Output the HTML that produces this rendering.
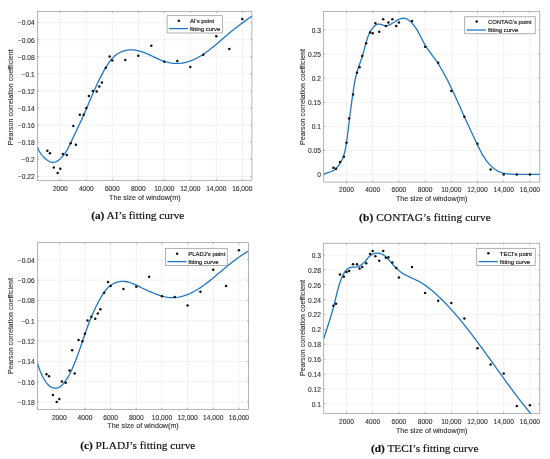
<!DOCTYPE html>
<html lang="en"><head><meta charset="utf-8"><title>Fitting curves</title>
<style>html,body{margin:0;padding:0;background:#fff}body{width:550px;height:459px;overflow:hidden}svg{display:block}</style>
</head><body>
<svg width="550" height="459" viewBox="0 0 550 459">
<rect width="550" height="459" fill="#fff"/>
<g id="plot-a">
<clipPath id="clip-a"><rect x="37.5" y="11.5" width="214.40" height="168.80"/></clipPath>
<path d="M60.30 11.5V180.3M86.30 11.5V180.3M112.30 11.5V180.3M138.30 11.5V180.3M164.30 11.5V180.3M190.30 11.5V180.3M216.30 11.5V180.3M242.30 11.5V180.3M37.5 22.60H251.9M37.5 39.70H251.9M37.5 56.80H251.9M37.5 73.90H251.9M37.5 91.00H251.9M37.5 108.10H251.9M37.5 125.20H251.9M37.5 142.30H251.9M37.5 159.40H251.9M37.5 176.50H251.9" stroke="#e9e9e9" stroke-width="0.6" fill="none"/>
<path d="M60.30 180.3v-1.5M60.30 11.5v1.5M86.30 180.3v-1.5M86.30 11.5v1.5M112.30 180.3v-1.5M112.30 11.5v1.5M138.30 180.3v-1.5M138.30 11.5v1.5M164.30 180.3v-1.5M164.30 11.5v1.5M190.30 180.3v-1.5M190.30 11.5v1.5M216.30 180.3v-1.5M216.30 11.5v1.5M242.30 180.3v-1.5M242.30 11.5v1.5M37.5 22.60h1.5M251.9 22.60h-1.5M37.5 39.70h1.5M251.9 39.70h-1.5M37.5 56.80h1.5M251.9 56.80h-1.5M37.5 73.90h1.5M251.9 73.90h-1.5M37.5 91.00h1.5M251.9 91.00h-1.5M37.5 108.10h1.5M251.9 108.10h-1.5M37.5 125.20h1.5M251.9 125.20h-1.5M37.5 142.30h1.5M251.9 142.30h-1.5M37.5 159.40h1.5M251.9 159.40h-1.5M37.5 176.50h1.5M251.9 176.50h-1.5" stroke="#8e8e8e" stroke-width="0.6" fill="none"/>
<rect x="37.5" y="11.5" width="214.40" height="168.80" fill="none" stroke="#8e8e8e" stroke-width="0.65"/>
<path d="M37.74 147.12 L38.07 148.46 L38.56 149.78 L39.17 151.08 L39.92 152.37 L40.78 153.64 L41.74 154.89 L42.79 156.12 L43.92 157.33 L45.12 158.49 L46.37 159.56 L47.67 160.51 L49.01 161.29 L50.36 161.87 L51.73 162.23 L53.10 162.34 L54.45 162.21 L55.78 161.83 L57.08 161.20 L58.33 160.36 L59.52 159.41 L60.65 158.39 L61.71 157.31 L62.72 156.19 L63.67 155.02 L64.58 153.81 L65.44 152.56 L66.26 151.28 L67.04 149.96 L67.79 148.63 L68.51 147.27 L69.21 145.89 L69.89 144.51 L70.55 143.11 L71.21 141.71 L71.85 140.31 L72.50 138.91 L73.14 137.53 L73.79 136.15 L74.43 134.77 L75.08 133.41 L75.73 132.05 L76.37 130.69 L77.02 129.33 L77.66 127.98 L78.31 126.63 L78.95 125.28 L79.59 123.93 L80.23 122.58 L80.86 121.22 L81.49 119.87 L82.11 118.50 L82.73 117.14 L83.35 115.76 L83.96 114.39 L84.57 113.00 L85.17 111.62 L85.78 110.23 L86.37 108.83 L86.97 107.43 L87.57 106.03 L88.16 104.63 L88.76 103.23 L89.36 101.82 L89.95 100.42 L90.55 99.01 L91.15 97.60 L91.75 96.20 L92.35 94.79 L92.96 93.39 L93.57 91.99 L94.19 90.59 L94.81 89.19 L95.43 87.80 L96.06 86.41 L96.70 85.03 L97.35 83.64 L98.00 82.27 L98.66 80.90 L99.32 79.54 L100.00 78.18 L100.69 76.83 L101.38 75.48 L102.09 74.15 L102.80 72.82 L103.53 71.50 L104.27 70.19 L105.02 68.89 L105.79 67.60 L106.57 66.32 L107.36 65.05 L108.17 63.80 L109.00 62.56 L109.86 61.35 L110.76 60.18 L111.70 59.03 L112.69 57.93 L113.73 56.88 L114.82 55.88 L115.98 54.94 L117.22 54.06 L118.51 53.25 L119.87 52.51 L121.27 51.85 L122.70 51.28 L124.17 50.80 L125.65 50.42 L127.15 50.13 L128.65 49.95 L130.15 49.86 L131.66 49.86 L133.16 49.94 L134.67 50.10 L136.16 50.33 L137.66 50.63 L139.14 50.99 L140.61 51.40 L142.08 51.86 L143.53 52.37 L144.96 52.91 L146.37 53.49 L147.77 54.09 L149.16 54.71 L150.53 55.35 L151.90 56.00 L153.27 56.66 L154.63 57.31 L156.00 57.96 L157.38 58.59 L158.77 59.20 L160.17 59.80 L161.59 60.36 L163.03 60.89 L164.48 61.38 L165.94 61.82 L167.42 62.23 L168.91 62.58 L170.41 62.88 L171.91 63.12 L173.41 63.30 L174.92 63.42 L176.43 63.46 L177.94 63.44 L179.44 63.36 L180.94 63.21 L182.43 63.00 L183.91 62.74 L185.38 62.42 L186.83 62.06 L188.27 61.64 L189.70 61.18 L191.11 60.67 L192.49 60.12 L193.87 59.53 L195.22 58.90 L196.56 58.23 L197.88 57.54 L199.19 56.80 L200.49 56.04 L201.77 55.25 L203.04 54.43 L204.30 53.58 L205.55 52.71 L206.78 51.82 L208.01 50.91 L209.23 49.99 L210.43 49.04 L211.63 48.09 L212.83 47.12 L214.01 46.14 L215.19 45.15 L216.36 44.16 L217.53 43.16 L218.70 42.16 L219.86 41.15 L221.01 40.15 L222.17 39.15 L223.32 38.16 L224.47 37.17 L225.63 36.19 L226.78 35.22 L227.93 34.25 L229.08 33.30 L230.24 32.34 L231.40 31.40 L232.56 30.46 L233.73 29.53 L234.90 28.60 L236.08 27.68 L237.26 26.76 L238.45 25.85 L239.64 24.94 L240.85 24.04 L242.06 23.14 L243.28 22.25 L244.51 21.36 L245.75 20.48 L247.00 19.60 L248.27 18.72 L249.54 17.84 L250.83 16.97 L252.14 16.10" stroke="#1f77c4" stroke-width="1.3" fill="none" stroke-linejoin="round" clip-path="url(#clip-a)"/>
<circle cx="47.30" cy="150.70" r="1.25" fill="#111"/>
<circle cx="49.90" cy="153.20" r="1.25" fill="#111"/>
<circle cx="53.80" cy="167.60" r="1.25" fill="#111"/>
<circle cx="57.70" cy="172.90" r="1.25" fill="#111"/>
<circle cx="60.30" cy="168.80" r="1.25" fill="#111"/>
<circle cx="62.90" cy="154.10" r="1.25" fill="#111"/>
<circle cx="66.80" cy="155.10" r="1.25" fill="#111"/>
<circle cx="70.70" cy="143.20" r="1.25" fill="#111"/>
<circle cx="73.30" cy="126.00" r="1.25" fill="#111"/>
<circle cx="75.90" cy="144.80" r="1.25" fill="#111"/>
<circle cx="79.80" cy="114.80" r="1.25" fill="#111"/>
<circle cx="83.70" cy="114.80" r="1.25" fill="#111"/>
<circle cx="86.30" cy="107.90" r="1.25" fill="#111"/>
<circle cx="88.90" cy="95.90" r="1.25" fill="#111"/>
<circle cx="92.80" cy="90.90" r="1.25" fill="#111"/>
<circle cx="96.70" cy="91.60" r="1.25" fill="#111"/>
<circle cx="99.30" cy="86.50" r="1.25" fill="#111"/>
<circle cx="101.90" cy="82.40" r="1.25" fill="#111"/>
<circle cx="105.80" cy="67.80" r="1.25" fill="#111"/>
<circle cx="109.70" cy="56.60" r="1.25" fill="#111"/>
<circle cx="112.30" cy="60.40" r="1.25" fill="#111"/>
<circle cx="125.30" cy="60.10" r="1.25" fill="#111"/>
<circle cx="138.30" cy="55.80" r="1.25" fill="#111"/>
<circle cx="151.30" cy="45.80" r="1.25" fill="#111"/>
<circle cx="164.30" cy="61.80" r="1.25" fill="#111"/>
<circle cx="177.30" cy="61.10" r="1.25" fill="#111"/>
<circle cx="190.30" cy="67.00" r="1.25" fill="#111"/>
<circle cx="203.30" cy="54.70" r="1.25" fill="#111"/>
<circle cx="216.30" cy="36.30" r="1.25" fill="#111"/>
<circle cx="229.30" cy="49.00" r="1.25" fill="#111"/>
<circle cx="242.30" cy="19.10" r="1.25" fill="#111"/>
<g font-family="Liberation Sans, Arial, sans-serif" font-size="6.65" fill="#333" stroke="#333" stroke-width="0.12">
<text x="60.30" y="190.60" text-anchor="middle">2000</text>
<text x="86.30" y="190.60" text-anchor="middle">4000</text>
<text x="112.30" y="190.60" text-anchor="middle">6000</text>
<text x="138.30" y="190.60" text-anchor="middle">8000</text>
<text x="164.30" y="190.60" text-anchor="middle">10,000</text>
<text x="190.30" y="190.60" text-anchor="middle">12,000</text>
<text x="216.30" y="190.60" text-anchor="middle">14,000</text>
<text x="242.30" y="190.60" text-anchor="middle">16,000</text>
<text x="34.70" y="25.40" text-anchor="end">−0.04</text>
<text x="34.70" y="42.50" text-anchor="end">−0.06</text>
<text x="34.70" y="59.60" text-anchor="end">−0.08</text>
<text x="34.70" y="76.70" text-anchor="end">−0.1</text>
<text x="34.70" y="93.80" text-anchor="end">−0.12</text>
<text x="34.70" y="110.90" text-anchor="end">−0.14</text>
<text x="34.70" y="128.00" text-anchor="end">−0.16</text>
<text x="34.70" y="145.10" text-anchor="end">−0.18</text>
<text x="34.70" y="162.20" text-anchor="end">−0.2</text>
<text x="34.70" y="179.30" text-anchor="end">−0.22</text>
</g>
<text x="144.8" y="200.4" text-anchor="middle" font-family="Liberation Sans, Arial, sans-serif" font-size="7.15" fill="#333" stroke="#333" stroke-width="0.12">The size of window(m)</text>
<text transform="translate(12.5 97.2) rotate(-90)" text-anchor="middle" font-family="Liberation Sans, Arial, sans-serif" font-size="7.15" fill="#333" stroke="#333" stroke-width="0.12">Pearson correlation coefficient</text>
<rect x="167.1" y="15.7" width="55.20" height="17.30" fill="#fff" stroke="#8e8e8e" stroke-width="0.7"/>
<circle cx="178.8" cy="20.7" r="1.25" fill="#111"/>
<path d="M169.1 28.6H187.9" stroke="#1f77c4" stroke-width="1.3"/>
<text x="189.9" y="23.20" font-family="Liberation Sans, Arial, sans-serif" font-size="5.95" fill="#222" stroke="#222" stroke-width="0.18">AI's point</text>
<text x="189.9" y="30.80" font-family="Liberation Sans, Arial, sans-serif" font-size="5.95" fill="#222" stroke="#222" stroke-width="0.18">fitting curve</text>
<text x="137.8" y="219.3" text-anchor="middle" font-family="Liberation Serif, Times New Roman, serif" font-size="11.3" fill="#111" stroke="#111" stroke-width="0.18" letter-spacing="0" xml:space="preserve"><tspan font-weight="bold">(a)</tspan> AI’s fitting curve</text>
</g>
<g id="plot-b">
<clipPath id="clip-b"><rect x="323.7" y="11.5" width="216.10" height="170.60"/></clipPath>
<path d="M346.50 11.5V182.1M372.70 11.5V182.1M398.90 11.5V182.1M425.10 11.5V182.1M451.30 11.5V182.1M477.50 11.5V182.1M503.70 11.5V182.1M529.90 11.5V182.1M323.7 30.00H539.8M323.7 54.10H539.8M323.7 78.20H539.8M323.7 102.30H539.8M323.7 126.40H539.8M323.7 150.50H539.8M323.7 174.60H539.8" stroke="#e9e9e9" stroke-width="0.6" fill="none"/>
<path d="M346.50 182.1v-1.5M346.50 11.5v1.5M372.70 182.1v-1.5M372.70 11.5v1.5M398.90 182.1v-1.5M398.90 11.5v1.5M425.10 182.1v-1.5M425.10 11.5v1.5M451.30 182.1v-1.5M451.30 11.5v1.5M477.50 182.1v-1.5M477.50 11.5v1.5M503.70 182.1v-1.5M503.70 11.5v1.5M529.90 182.1v-1.5M529.90 11.5v1.5M323.7 30.00h1.5M539.8 30.00h-1.5M323.7 54.10h1.5M539.8 54.10h-1.5M323.7 78.20h1.5M539.8 78.20h-1.5M323.7 102.30h1.5M539.8 102.30h-1.5M323.7 126.40h1.5M539.8 126.40h-1.5M323.7 150.50h1.5M539.8 150.50h-1.5M323.7 174.60h1.5M539.8 174.60h-1.5" stroke="#8e8e8e" stroke-width="0.6" fill="none"/>
<rect x="323.7" y="11.5" width="216.10" height="170.60" fill="none" stroke="#8e8e8e" stroke-width="0.65"/>
<path d="M323.50 174.10 L325.09 173.55 L326.63 173.09 L328.12 172.66 L329.55 172.23 L330.94 171.75 L332.26 171.19 L333.52 170.49 L334.73 169.65 L335.87 168.67 L336.94 167.60 L337.94 166.44 L338.87 165.23 L339.73 163.98 L340.52 162.70 L341.25 161.40 L341.91 160.06 L342.52 158.70 L343.07 157.32 L343.58 155.91 L344.03 154.48 L344.45 153.04 L344.82 151.58 L345.17 150.11 L345.48 148.62 L345.76 147.12 L346.02 145.62 L346.26 144.10 L346.48 142.59 L346.70 141.07 L346.90 139.55 L347.10 138.03 L347.30 136.51 L347.49 135.00 L347.69 133.48 L347.88 131.97 L348.07 130.46 L348.26 128.96 L348.45 127.45 L348.63 125.95 L348.82 124.45 L349.01 122.95 L349.19 121.45 L349.38 119.95 L349.57 118.46 L349.75 116.97 L349.94 115.48 L350.13 113.99 L350.32 112.50 L350.51 111.01 L350.70 109.52 L350.89 108.04 L351.08 106.56 L351.28 105.07 L351.47 103.59 L351.67 102.11 L351.88 100.63 L352.08 99.15 L352.29 97.68 L352.50 96.20 L352.71 94.72 L352.93 93.25 L353.15 91.77 L353.37 90.30 L353.60 88.82 L353.83 87.35 L354.06 85.87 L354.31 84.40 L354.56 82.93 L354.82 81.46 L355.10 79.98 L355.40 78.51 L355.72 77.04 L356.05 75.57 L356.42 74.09 L356.80 72.62 L357.22 71.15 L357.67 69.67 L358.15 68.20 L358.66 66.73 L359.19 65.25 L359.73 63.78 L360.27 62.30 L360.81 60.83 L361.32 59.35 L361.81 57.87 L362.27 56.40 L362.72 54.92 L363.14 53.45 L363.55 51.98 L363.95 50.52 L364.35 49.06 L364.74 47.61 L365.12 46.17 L365.51 44.74 L365.91 43.31 L366.31 41.90 L366.73 40.50 L367.17 39.12 L367.62 37.74 L368.10 36.39 L368.61 35.05 L369.18 33.73 L369.81 32.42 L370.52 31.14 L371.31 29.88 L372.21 28.64 L373.22 27.42 L374.34 26.27 L375.57 25.26 L376.87 24.50 L378.24 24.08 L379.65 24.09 L381.08 24.46 L382.53 24.99 L383.96 25.44 L385.38 25.70 L386.79 25.70 L388.20 25.39 L389.59 24.84 L390.99 24.13 L392.38 23.31 L393.78 22.43 L395.17 21.54 L396.57 20.67 L397.98 19.87 L399.40 19.20 L400.83 18.68 L402.24 18.35 L403.64 18.24 L405.02 18.38 L406.36 18.79 L407.65 19.47 L408.89 20.33 L410.06 21.29 L411.17 22.31 L412.21 23.38 L413.20 24.50 L414.13 25.66 L415.02 26.87 L415.87 28.11 L416.68 29.39 L417.46 30.69 L418.21 32.01 L418.95 33.36 L419.66 34.71 L420.37 36.08 L421.07 37.45 L421.76 38.82 L422.46 40.18 L423.18 41.54 L423.90 42.89 L424.64 44.21 L425.41 45.52 L426.21 46.80 L427.03 48.05 L427.87 49.29 L428.73 50.52 L429.60 51.73 L430.48 52.93 L431.37 54.13 L432.26 55.33 L433.15 56.53 L434.04 57.73 L434.91 58.95 L435.78 60.17 L436.63 61.42 L437.47 62.67 L438.29 63.94 L439.10 65.22 L439.90 66.52 L440.68 67.82 L441.46 69.13 L442.22 70.45 L442.97 71.77 L443.71 73.10 L444.44 74.44 L445.16 75.77 L445.88 77.12 L446.58 78.46 L447.27 79.81 L447.96 81.15 L448.64 82.50 L449.32 83.85 L449.98 85.21 L450.64 86.56 L451.30 87.92 L451.94 89.28 L452.59 90.64 L453.23 92.00 L453.86 93.36 L454.49 94.72 L455.12 96.09 L455.74 97.45 L456.36 98.82 L456.98 100.19 L457.59 101.56 L458.21 102.93 L458.82 104.30 L459.43 105.67 L460.05 107.05 L460.66 108.42 L461.27 109.80 L461.88 111.17 L462.50 112.55 L463.11 113.92 L463.73 115.30 L464.35 116.67 L464.97 118.05 L465.59 119.43 L466.22 120.81 L466.84 122.18 L467.48 123.56 L468.11 124.94 L468.74 126.31 L469.38 127.69 L470.02 129.07 L470.66 130.44 L471.30 131.82 L471.94 133.20 L472.58 134.57 L473.23 135.94 L473.87 137.32 L474.52 138.69 L475.17 140.06 L475.82 141.43 L476.47 142.80 L477.12 144.17 L477.78 145.54 L478.44 146.90 L479.11 148.26 L479.78 149.61 L480.47 150.95 L481.18 152.28 L481.91 153.59 L482.65 154.89 L483.42 156.18 L484.21 157.44 L485.04 158.68 L485.89 159.91 L486.78 161.10 L487.70 162.28 L488.67 163.42 L489.67 164.53 L490.72 165.62 L491.81 166.67 L492.96 167.68 L494.15 168.66 L495.39 169.58 L496.68 170.43 L498.00 171.21 L499.36 171.88 L500.76 172.45 L502.18 172.89 L503.62 173.22 L505.08 173.47 L506.57 173.68 L508.06 173.85 L509.56 173.99 L511.08 174.11 L512.59 174.21 L514.11 174.29 L515.64 174.35 L517.16 174.39 L518.68 174.42 L520.19 174.44 L521.70 174.45 L523.21 174.45 L524.72 174.45 L526.22 174.45 L527.73 174.45 L529.23 174.45 L530.74 174.45 L532.24 174.45 L533.75 174.45 L535.26 174.45 L536.77 174.45 L538.28 174.45 L539.80 174.45" stroke="#1f77c4" stroke-width="1.3" fill="none" stroke-linejoin="round" clip-path="url(#clip-b)"/>
<circle cx="333.40" cy="167.70" r="1.25" fill="#111"/>
<circle cx="336.02" cy="168.70" r="1.25" fill="#111"/>
<circle cx="339.95" cy="162.10" r="1.25" fill="#111"/>
<circle cx="343.88" cy="156.70" r="1.25" fill="#111"/>
<circle cx="346.50" cy="142.70" r="1.25" fill="#111"/>
<circle cx="349.12" cy="118.60" r="1.25" fill="#111"/>
<circle cx="353.05" cy="94.40" r="1.25" fill="#111"/>
<circle cx="356.98" cy="72.80" r="1.25" fill="#111"/>
<circle cx="359.60" cy="67.20" r="1.25" fill="#111"/>
<circle cx="362.22" cy="56.00" r="1.25" fill="#111"/>
<circle cx="366.15" cy="43.30" r="1.25" fill="#111"/>
<circle cx="370.08" cy="32.60" r="1.25" fill="#111"/>
<circle cx="372.70" cy="33.30" r="1.25" fill="#111"/>
<circle cx="375.32" cy="23.20" r="1.25" fill="#111"/>
<circle cx="379.25" cy="31.80" r="1.25" fill="#111"/>
<circle cx="383.18" cy="19.30" r="1.25" fill="#111"/>
<circle cx="385.80" cy="26.00" r="1.25" fill="#111"/>
<circle cx="388.42" cy="22.60" r="1.25" fill="#111"/>
<circle cx="392.35" cy="19.30" r="1.25" fill="#111"/>
<circle cx="396.28" cy="26.00" r="1.25" fill="#111"/>
<circle cx="398.90" cy="22.40" r="1.25" fill="#111"/>
<circle cx="412.00" cy="20.90" r="1.25" fill="#111"/>
<circle cx="425.10" cy="46.80" r="1.25" fill="#111"/>
<circle cx="438.20" cy="62.80" r="1.25" fill="#111"/>
<circle cx="451.30" cy="91.10" r="1.25" fill="#111"/>
<circle cx="464.40" cy="116.80" r="1.25" fill="#111"/>
<circle cx="477.50" cy="143.80" r="1.25" fill="#111"/>
<circle cx="490.60" cy="169.50" r="1.25" fill="#111"/>
<circle cx="503.70" cy="174.60" r="1.25" fill="#111"/>
<circle cx="516.80" cy="174.60" r="1.25" fill="#111"/>
<circle cx="529.90" cy="174.60" r="1.25" fill="#111"/>
<g font-family="Liberation Sans, Arial, sans-serif" font-size="6.65" fill="#333" stroke="#333" stroke-width="0.12">
<text x="346.50" y="192.40" text-anchor="middle">2000</text>
<text x="372.70" y="192.40" text-anchor="middle">4000</text>
<text x="398.90" y="192.40" text-anchor="middle">6000</text>
<text x="425.10" y="192.40" text-anchor="middle">8000</text>
<text x="451.30" y="192.40" text-anchor="middle">10,000</text>
<text x="477.50" y="192.40" text-anchor="middle">12,000</text>
<text x="503.70" y="192.40" text-anchor="middle">14,000</text>
<text x="529.90" y="192.40" text-anchor="middle">16,000</text>
<text x="320.90" y="32.80" text-anchor="end">0.3</text>
<text x="320.90" y="56.90" text-anchor="end">0.25</text>
<text x="320.90" y="81.00" text-anchor="end">0.2</text>
<text x="320.90" y="105.10" text-anchor="end">0.15</text>
<text x="320.90" y="129.20" text-anchor="end">0.1</text>
<text x="320.90" y="153.30" text-anchor="end">0.05</text>
<text x="320.90" y="177.40" text-anchor="end">0</text>
</g>
<text x="431.7" y="201.3" text-anchor="middle" font-family="Liberation Sans, Arial, sans-serif" font-size="7.15" fill="#333" stroke="#333" stroke-width="0.12">The size of window(m)</text>
<text transform="translate(304.6 97) rotate(-90)" text-anchor="middle" font-family="Liberation Sans, Arial, sans-serif" font-size="7.15" fill="#333" stroke="#333" stroke-width="0.12">Pearson correlation coefficient</text>
<rect x="464.7" y="16.8" width="70.50" height="17.00" fill="#fff" stroke="#8e8e8e" stroke-width="0.7"/>
<circle cx="476.7" cy="21.4" r="1.25" fill="#111"/>
<path d="M466.5 30H485.8" stroke="#1f77c4" stroke-width="1.3"/>
<text x="487.9" y="23.90" font-family="Liberation Sans, Arial, sans-serif" font-size="5.95" fill="#222" stroke="#222" stroke-width="0.18">CONTAG's point</text>
<text x="487.9" y="32.20" font-family="Liberation Sans, Arial, sans-serif" font-size="5.95" fill="#222" stroke="#222" stroke-width="0.18">fitting curve</text>
<text x="425.0" y="221.2" text-anchor="middle" font-family="Liberation Serif, Times New Roman, serif" font-size="11.3" fill="#111" stroke="#111" stroke-width="0.18" letter-spacing="0.12" xml:space="preserve"><tspan font-weight="bold">(b)</tspan> CONTAG’s fitting curve</text>
</g>
<g id="plot-c">
<clipPath id="clip-c"><rect x="37.4" y="242.7" width="211.20" height="166.60"/></clipPath>
<path d="M59.30 242.7V409.3M84.96 242.7V409.3M110.62 242.7V409.3M136.28 242.7V409.3M161.94 242.7V409.3M187.60 242.7V409.3M213.26 242.7V409.3M238.92 242.7V409.3M37.4 259.80H248.6M37.4 280.13H248.6M37.4 300.46H248.6M37.4 320.79H248.6M37.4 341.12H248.6M37.4 361.45H248.6M37.4 381.78H248.6M37.4 402.11H248.6" stroke="#e9e9e9" stroke-width="0.6" fill="none"/>
<path d="M59.30 409.3v-1.5M59.30 242.7v1.5M84.96 409.3v-1.5M84.96 242.7v1.5M110.62 409.3v-1.5M110.62 242.7v1.5M136.28 409.3v-1.5M136.28 242.7v1.5M161.94 409.3v-1.5M161.94 242.7v1.5M187.60 409.3v-1.5M187.60 242.7v1.5M213.26 409.3v-1.5M213.26 242.7v1.5M238.92 409.3v-1.5M238.92 242.7v1.5M37.4 259.80h1.5M248.6 259.80h-1.5M37.4 280.13h1.5M248.6 280.13h-1.5M37.4 300.46h1.5M248.6 300.46h-1.5M37.4 320.79h1.5M248.6 320.79h-1.5M37.4 341.12h1.5M248.6 341.12h-1.5M37.4 361.45h1.5M248.6 361.45h-1.5M37.4 381.78h1.5M248.6 381.78h-1.5M37.4 402.11h1.5M248.6 402.11h-1.5" stroke="#8e8e8e" stroke-width="0.6" fill="none"/>
<rect x="37.4" y="242.7" width="211.20" height="166.60" fill="none" stroke="#8e8e8e" stroke-width="0.65"/>
<path d="M37.51 363.38 L37.91 364.71 L38.34 366.05 L38.80 367.41 L39.29 368.78 L39.81 370.17 L40.36 371.56 L40.96 372.97 L41.59 374.39 L42.27 375.82 L43.00 377.26 L43.78 378.71 L44.62 380.13 L45.51 381.52 L46.47 382.84 L47.48 384.07 L48.57 385.18 L49.72 386.15 L50.94 386.95 L52.23 387.57 L53.55 387.99 L54.88 388.21 L56.20 388.21 L57.50 387.99 L58.74 387.53 L59.92 386.86 L61.05 386.02 L62.13 385.02 L63.16 383.92 L64.15 382.74 L65.09 381.50 L65.99 380.22 L66.85 378.91 L67.67 377.57 L68.47 376.20 L69.23 374.82 L69.96 373.42 L70.66 372.01 L71.34 370.60 L72.00 369.19 L72.64 367.79 L73.26 366.38 L73.86 364.97 L74.45 363.57 L75.02 362.17 L75.57 360.76 L76.12 359.36 L76.65 357.95 L77.17 356.55 L77.68 355.14 L78.18 353.74 L78.68 352.33 L79.17 350.92 L79.66 349.51 L80.14 348.09 L80.62 346.68 L81.11 345.26 L81.59 343.84 L82.07 342.42 L82.55 341.00 L83.04 339.58 L83.53 338.15 L84.02 336.73 L84.51 335.30 L85.00 333.88 L85.50 332.45 L86.01 331.03 L86.52 329.61 L87.03 328.18 L87.56 326.76 L88.08 325.34 L88.62 323.92 L89.16 322.51 L89.71 321.10 L90.27 319.69 L90.83 318.28 L91.41 316.88 L91.99 315.47 L92.59 314.08 L93.20 312.69 L93.82 311.30 L94.45 309.92 L95.09 308.54 L95.74 307.17 L96.41 305.80 L97.09 304.44 L97.79 303.09 L98.50 301.74 L99.22 300.40 L99.96 299.06 L100.72 297.74 L101.49 296.42 L102.29 295.11 L103.10 293.82 L103.95 292.55 L104.83 291.32 L105.75 290.12 L106.72 288.98 L107.73 287.88 L108.81 286.85 L109.94 285.89 L111.14 285.00 L112.41 284.20 L113.74 283.48 L115.12 282.86 L116.55 282.34 L118.00 281.91 L119.48 281.60 L120.96 281.40 L122.45 281.31 L123.94 281.35 L125.41 281.50 L126.88 281.75 L128.34 282.09 L129.79 282.51 L131.23 283.00 L132.66 283.55 L134.09 284.15 L135.50 284.79 L136.91 285.46 L138.31 286.14 L139.70 286.83 L141.08 287.53 L142.45 288.21 L143.81 288.87 L145.16 289.51 L146.52 290.13 L147.87 290.74 L149.22 291.33 L150.58 291.90 L151.95 292.46 L153.32 293.01 L154.71 293.55 L156.12 294.08 L157.54 294.60 L158.98 295.10 L160.44 295.59 L161.91 296.04 L163.40 296.45 L164.89 296.82 L166.40 297.14 L167.91 297.39 L169.42 297.58 L170.93 297.68 L172.45 297.71 L173.96 297.66 L175.47 297.55 L176.98 297.37 L178.47 297.13 L179.96 296.83 L181.43 296.48 L182.89 296.08 L184.33 295.64 L185.76 295.15 L187.17 294.63 L188.56 294.07 L189.93 293.48 L191.29 292.85 L192.63 292.19 L193.96 291.50 L195.27 290.78 L196.57 290.03 L197.86 289.26 L199.13 288.46 L200.40 287.64 L201.65 286.80 L202.89 285.94 L204.12 285.06 L205.35 284.16 L206.56 283.24 L207.77 282.32 L208.97 281.38 L210.16 280.43 L211.35 279.47 L212.53 278.50 L213.70 277.53 L214.88 276.55 L216.05 275.56 L217.21 274.58 L218.38 273.59 L219.54 272.61 L220.70 271.63 L221.86 270.65 L223.02 269.68 L224.18 268.71 L225.35 267.74 L226.51 266.78 L227.68 265.82 L228.85 264.87 L230.03 263.93 L231.21 262.99 L232.39 262.06 L233.58 261.14 L234.78 260.23 L235.99 259.33 L237.20 258.44 L238.42 257.56 L239.65 256.69 L240.89 255.83 L242.14 254.99 L243.40 254.15 L244.67 253.34 L245.96 252.53 L247.26 251.74 L248.57 250.97" stroke="#1f77c4" stroke-width="1.3" fill="none" stroke-linejoin="round" clip-path="url(#clip-c)"/>
<circle cx="46.47" cy="374.35" r="1.25" fill="#111"/>
<circle cx="49.04" cy="376.35" r="1.25" fill="#111"/>
<circle cx="52.89" cy="394.95" r="1.25" fill="#111"/>
<circle cx="56.73" cy="402.05" r="1.25" fill="#111"/>
<circle cx="59.30" cy="399.05" r="1.25" fill="#111"/>
<circle cx="61.87" cy="381.45" r="1.25" fill="#111"/>
<circle cx="65.72" cy="382.75" r="1.25" fill="#111"/>
<circle cx="69.56" cy="370.55" r="1.25" fill="#111"/>
<circle cx="72.13" cy="350.15" r="1.25" fill="#111"/>
<circle cx="74.70" cy="373.55" r="1.25" fill="#111"/>
<circle cx="78.55" cy="340.05" r="1.25" fill="#111"/>
<circle cx="82.39" cy="341.35" r="1.25" fill="#111"/>
<circle cx="84.96" cy="333.85" r="1.25" fill="#111"/>
<circle cx="87.53" cy="320.55" r="1.25" fill="#111"/>
<circle cx="91.38" cy="316.75" r="1.25" fill="#111"/>
<circle cx="95.22" cy="318.75" r="1.25" fill="#111"/>
<circle cx="97.79" cy="313.45" r="1.25" fill="#111"/>
<circle cx="100.36" cy="309.35" r="1.25" fill="#111"/>
<circle cx="104.20" cy="292.85" r="1.25" fill="#111"/>
<circle cx="108.05" cy="281.95" r="1.25" fill="#111"/>
<circle cx="110.62" cy="285.95" r="1.25" fill="#111"/>
<circle cx="123.45" cy="289.05" r="1.25" fill="#111"/>
<circle cx="136.28" cy="286.85" r="1.25" fill="#111"/>
<circle cx="149.11" cy="276.85" r="1.25" fill="#111"/>
<circle cx="161.94" cy="296.15" r="1.25" fill="#111"/>
<circle cx="174.77" cy="296.95" r="1.25" fill="#111"/>
<circle cx="187.60" cy="305.55" r="1.25" fill="#111"/>
<circle cx="200.43" cy="291.85" r="1.25" fill="#111"/>
<circle cx="213.26" cy="269.65" r="1.25" fill="#111"/>
<circle cx="226.09" cy="285.95" r="1.25" fill="#111"/>
<circle cx="238.92" cy="250.35" r="1.25" fill="#111"/>
<g font-family="Liberation Sans, Arial, sans-serif" font-size="6.65" fill="#333" stroke="#333" stroke-width="0.12">
<text x="59.30" y="419.60" text-anchor="middle">2000</text>
<text x="84.96" y="419.60" text-anchor="middle">4000</text>
<text x="110.62" y="419.60" text-anchor="middle">6000</text>
<text x="136.28" y="419.60" text-anchor="middle">8000</text>
<text x="161.94" y="419.60" text-anchor="middle">10,000</text>
<text x="187.60" y="419.60" text-anchor="middle">12,000</text>
<text x="213.26" y="419.60" text-anchor="middle">14,000</text>
<text x="238.92" y="419.60" text-anchor="middle">16,000</text>
<text x="34.60" y="262.60" text-anchor="end">−0.04</text>
<text x="34.60" y="282.93" text-anchor="end">−0.06</text>
<text x="34.60" y="303.26" text-anchor="end">−0.08</text>
<text x="34.60" y="323.59" text-anchor="end">−0.1</text>
<text x="34.60" y="343.92" text-anchor="end">−0.12</text>
<text x="34.60" y="364.25" text-anchor="end">−0.14</text>
<text x="34.60" y="384.58" text-anchor="end">−0.16</text>
<text x="34.60" y="404.91" text-anchor="end">−0.18</text>
</g>
<text x="143" y="428.3" text-anchor="middle" font-family="Liberation Sans, Arial, sans-serif" font-size="7.15" fill="#333" stroke="#333" stroke-width="0.12">The size of window(m)</text>
<text transform="translate(12.5 326) rotate(-90)" text-anchor="middle" font-family="Liberation Sans, Arial, sans-serif" font-size="7.15" fill="#333" stroke="#333" stroke-width="0.12">Pearson correlation coefficient</text>
<rect x="165.6" y="248.3" width="61.60" height="17.30" fill="#fff" stroke="#8e8e8e" stroke-width="0.7"/>
<circle cx="177.1" cy="253.7" r="1.25" fill="#111"/>
<path d="M167.4 261.6H186.5" stroke="#1f77c4" stroke-width="1.3"/>
<text x="188.2" y="256.20" font-family="Liberation Sans, Arial, sans-serif" font-size="5.95" fill="#222" stroke="#222" stroke-width="0.18">PLADJ's point</text>
<text x="188.2" y="263.80" font-family="Liberation Sans, Arial, sans-serif" font-size="5.95" fill="#222" stroke="#222" stroke-width="0.18">fitting curve</text>
<text x="137.8" y="448.7" text-anchor="middle" font-family="Liberation Serif, Times New Roman, serif" font-size="11.3" fill="#111" stroke="#111" stroke-width="0.18" letter-spacing="0" xml:space="preserve"><tspan font-weight="bold">(c)</tspan> PLADJ’s fitting curve</text>
</g>
<g id="plot-d">
<clipPath id="clip-d"><rect x="323.7" y="243.2" width="216.10" height="170.20"/></clipPath>
<path d="M346.50 243.2V413.4M372.70 243.2V413.4M398.90 243.2V413.4M425.10 243.2V413.4M451.30 243.2V413.4M477.50 243.2V413.4M503.70 243.2V413.4M529.90 243.2V413.4M323.7 255.20H539.8M323.7 270.06H539.8M323.7 284.92H539.8M323.7 299.78H539.8M323.7 314.64H539.8M323.7 329.50H539.8M323.7 344.36H539.8M323.7 359.22H539.8M323.7 374.08H539.8M323.7 388.94H539.8M323.7 403.80H539.8" stroke="#e9e9e9" stroke-width="0.6" fill="none"/>
<path d="M346.50 413.4v-1.5M346.50 243.2v1.5M372.70 413.4v-1.5M372.70 243.2v1.5M398.90 413.4v-1.5M398.90 243.2v1.5M425.10 413.4v-1.5M425.10 243.2v1.5M451.30 413.4v-1.5M451.30 243.2v1.5M477.50 413.4v-1.5M477.50 243.2v1.5M503.70 413.4v-1.5M503.70 243.2v1.5M529.90 413.4v-1.5M529.90 243.2v1.5M323.7 255.20h1.5M539.8 255.20h-1.5M323.7 270.06h1.5M539.8 270.06h-1.5M323.7 284.92h1.5M539.8 284.92h-1.5M323.7 299.78h1.5M539.8 299.78h-1.5M323.7 314.64h1.5M539.8 314.64h-1.5M323.7 329.50h1.5M539.8 329.50h-1.5M323.7 344.36h1.5M539.8 344.36h-1.5M323.7 359.22h1.5M539.8 359.22h-1.5M323.7 374.08h1.5M539.8 374.08h-1.5M323.7 388.94h1.5M539.8 388.94h-1.5M323.7 403.80h1.5M539.8 403.80h-1.5" stroke="#8e8e8e" stroke-width="0.6" fill="none"/>
<rect x="323.7" y="243.2" width="216.10" height="170.20" fill="none" stroke="#8e8e8e" stroke-width="0.65"/>
<path d="M323.67 338.93 L324.11 337.49 L324.56 336.05 L325.02 334.62 L325.48 333.18 L325.94 331.74 L326.41 330.29 L326.87 328.85 L327.34 327.41 L327.81 325.96 L328.28 324.52 L328.74 323.07 L329.20 321.62 L329.66 320.18 L330.12 318.73 L330.57 317.28 L331.01 315.83 L331.45 314.38 L331.88 312.92 L332.30 311.47 L332.71 310.02 L333.11 308.56 L333.51 307.11 L333.89 305.65 L334.26 304.20 L334.62 302.74 L334.97 301.28 L335.31 299.83 L335.66 298.37 L336.00 296.91 L336.35 295.45 L336.70 293.99 L337.06 292.54 L337.43 291.08 L337.82 289.62 L338.22 288.16 L338.64 286.70 L339.08 285.24 L339.54 283.78 L340.03 282.32 L340.54 280.86 L341.09 279.40 L341.67 277.94 L342.30 276.50 L342.97 275.09 L343.71 273.72 L344.51 272.42 L345.38 271.20 L346.35 270.07 L347.40 269.06 L348.56 268.24 L349.83 267.69 L351.18 267.37 L352.61 267.21 L354.07 267.12 L355.53 267.03 L356.98 266.84 L358.37 266.48 L359.70 265.90 L360.96 265.11 L362.17 264.17 L363.33 263.09 L364.46 261.92 L365.55 260.70 L366.62 259.47 L367.70 258.25 L368.79 257.09 L369.91 256.02 L371.08 255.08 L372.32 254.30 L373.63 253.72 L375.00 253.32 L376.39 253.11 L377.80 253.08 L379.19 253.24 L380.56 253.58 L381.88 254.10 L383.15 254.79 L384.37 255.62 L385.54 256.57 L386.68 257.62 L387.78 258.74 L388.86 259.92 L389.92 261.12 L390.96 262.34 L392.00 263.53 L393.03 264.71 L394.06 265.85 L395.10 266.96 L396.16 268.04 L397.23 269.07 L398.33 270.07 L399.46 271.02 L400.63 271.92 L401.83 272.77 L403.08 273.58 L404.37 274.34 L405.68 275.06 L407.02 275.75 L408.38 276.42 L409.76 277.08 L411.14 277.72 L412.54 278.36 L413.93 279.00 L415.32 279.64 L416.70 280.31 L418.06 280.99 L419.41 281.70 L420.73 282.44 L422.03 283.21 L423.31 284.02 L424.56 284.85 L425.79 285.71 L427.01 286.60 L428.21 287.50 L429.39 288.43 L430.56 289.38 L431.72 290.34 L432.86 291.32 L434.00 292.31 L435.12 293.31 L436.24 294.33 L437.35 295.35 L438.45 296.38 L439.54 297.41 L440.63 298.46 L441.71 299.52 L442.78 300.58 L443.84 301.65 L444.90 302.73 L445.95 303.82 L446.99 304.91 L448.03 306.02 L449.06 307.12 L450.08 308.24 L451.10 309.36 L452.11 310.49 L453.12 311.62 L454.12 312.76 L455.11 313.90 L456.10 315.05 L457.09 316.20 L458.06 317.36 L459.04 318.52 L460.01 319.69 L460.97 320.86 L461.93 322.03 L462.89 323.21 L463.84 324.39 L464.79 325.57 L465.73 326.76 L466.67 327.94 L467.61 329.13 L468.54 330.33 L469.47 331.52 L470.40 332.72 L471.32 333.92 L472.24 335.12 L473.16 336.32 L474.07 337.53 L474.98 338.74 L475.89 339.95 L476.80 341.16 L477.70 342.37 L478.60 343.58 L479.50 344.80 L480.40 346.02 L481.29 347.24 L482.19 348.46 L483.08 349.68 L483.97 350.90 L484.86 352.12 L485.74 353.34 L486.63 354.57 L487.52 355.79 L488.40 357.02 L489.28 358.25 L490.17 359.47 L491.05 360.70 L491.93 361.93 L492.81 363.16 L493.69 364.39 L494.57 365.61 L495.45 366.84 L496.33 368.07 L497.21 369.30 L498.09 370.53 L498.98 371.76 L499.86 372.98 L500.74 374.21 L501.62 375.44 L502.51 376.66 L503.39 377.89 L504.28 379.11 L505.17 380.34 L506.05 381.56 L506.94 382.78 L507.84 384.00 L508.73 385.22 L509.62 386.44 L510.52 387.65 L511.42 388.87 L512.32 390.08 L513.22 391.30 L514.13 392.51 L515.04 393.72 L515.95 394.92 L516.86 396.13 L517.78 397.33 L518.70 398.53 L519.62 399.73 L520.55 400.93 L521.48 402.12 L522.41 403.31 L523.34 404.50 L524.28 405.69 L525.23 406.88 L526.17 408.06 L527.13 409.24 L528.08 410.41 L529.04 411.59 L530.00 412.76 L530.97 413.92" stroke="#1f77c4" stroke-width="1.3" fill="none" stroke-linejoin="round" clip-path="url(#clip-d)"/>
<circle cx="333.40" cy="305.80" r="1.25" fill="#111"/>
<circle cx="336.02" cy="303.70" r="1.25" fill="#111"/>
<circle cx="339.95" cy="274.50" r="1.25" fill="#111"/>
<circle cx="343.88" cy="276.80" r="1.25" fill="#111"/>
<circle cx="346.50" cy="271.90" r="1.25" fill="#111"/>
<circle cx="349.12" cy="270.90" r="1.25" fill="#111"/>
<circle cx="353.05" cy="264.30" r="1.25" fill="#111"/>
<circle cx="356.98" cy="264.30" r="1.25" fill="#111"/>
<circle cx="359.60" cy="268.60" r="1.25" fill="#111"/>
<circle cx="362.22" cy="267.10" r="1.25" fill="#111"/>
<circle cx="366.15" cy="263.30" r="1.25" fill="#111"/>
<circle cx="370.08" cy="253.90" r="1.25" fill="#111"/>
<circle cx="372.70" cy="251.10" r="1.25" fill="#111"/>
<circle cx="375.32" cy="256.20" r="1.25" fill="#111"/>
<circle cx="379.25" cy="260.70" r="1.25" fill="#111"/>
<circle cx="383.18" cy="251.10" r="1.25" fill="#111"/>
<circle cx="385.80" cy="257.70" r="1.25" fill="#111"/>
<circle cx="388.42" cy="257.20" r="1.25" fill="#111"/>
<circle cx="392.35" cy="262.50" r="1.25" fill="#111"/>
<circle cx="396.28" cy="268.10" r="1.25" fill="#111"/>
<circle cx="398.90" cy="277.50" r="1.25" fill="#111"/>
<circle cx="412.00" cy="267.10" r="1.25" fill="#111"/>
<circle cx="425.10" cy="293.00" r="1.25" fill="#111"/>
<circle cx="438.20" cy="300.70" r="1.25" fill="#111"/>
<circle cx="451.30" cy="303.00" r="1.25" fill="#111"/>
<circle cx="464.40" cy="318.50" r="1.25" fill="#111"/>
<circle cx="477.50" cy="348.30" r="1.25" fill="#111"/>
<circle cx="490.60" cy="364.60" r="1.25" fill="#111"/>
<circle cx="503.70" cy="373.50" r="1.25" fill="#111"/>
<circle cx="516.80" cy="406.00" r="1.25" fill="#111"/>
<circle cx="529.90" cy="405.30" r="1.25" fill="#111"/>
<g font-family="Liberation Sans, Arial, sans-serif" font-size="6.65" fill="#333" stroke="#333" stroke-width="0.12">
<text x="346.50" y="423.70" text-anchor="middle">2000</text>
<text x="372.70" y="423.70" text-anchor="middle">4000</text>
<text x="398.90" y="423.70" text-anchor="middle">6000</text>
<text x="425.10" y="423.70" text-anchor="middle">8000</text>
<text x="451.30" y="423.70" text-anchor="middle">10,000</text>
<text x="477.50" y="423.70" text-anchor="middle">12,000</text>
<text x="503.70" y="423.70" text-anchor="middle">14,000</text>
<text x="529.90" y="423.70" text-anchor="middle">16,000</text>
<text x="320.90" y="258.00" text-anchor="end">0.3</text>
<text x="320.90" y="272.86" text-anchor="end">0.28</text>
<text x="320.90" y="287.72" text-anchor="end">0.26</text>
<text x="320.90" y="302.58" text-anchor="end">0.24</text>
<text x="320.90" y="317.44" text-anchor="end">0.22</text>
<text x="320.90" y="332.30" text-anchor="end">0.2</text>
<text x="320.90" y="347.16" text-anchor="end">0.18</text>
<text x="320.90" y="362.02" text-anchor="end">0.16</text>
<text x="320.90" y="376.88" text-anchor="end">0.14</text>
<text x="320.90" y="391.74" text-anchor="end">0.12</text>
<text x="320.90" y="406.60" text-anchor="end">0.1</text>
</g>
<text x="431.7" y="432.9" text-anchor="middle" font-family="Liberation Sans, Arial, sans-serif" font-size="7.15" fill="#333" stroke="#333" stroke-width="0.12">The size of window(m)</text>
<text transform="translate(304.6 328) rotate(-90)" text-anchor="middle" font-family="Liberation Sans, Arial, sans-serif" font-size="7.15" fill="#333" stroke="#333" stroke-width="0.12">Pearson correlation coefficient</text>
<rect x="476.7" y="248.3" width="58.50" height="17.30" fill="#fff" stroke="#8e8e8e" stroke-width="0.7"/>
<circle cx="488.4" cy="253.2" r="1.25" fill="#111"/>
<path d="M478.7 261.6H497.8" stroke="#1f77c4" stroke-width="1.3"/>
<text x="499.8" y="255.70" font-family="Liberation Sans, Arial, sans-serif" font-size="5.95" fill="#222" stroke="#222" stroke-width="0.18">TECI's point</text>
<text x="499.8" y="263.80" font-family="Liberation Sans, Arial, sans-serif" font-size="5.95" fill="#222" stroke="#222" stroke-width="0.18">fitting curve</text>
<text x="424.7" y="452" text-anchor="middle" font-family="Liberation Serif, Times New Roman, serif" font-size="11.3" fill="#111" stroke="#111" stroke-width="0.18" letter-spacing="0" xml:space="preserve"><tspan font-weight="bold">(d)</tspan> TECI’s fitting curve</text>
</g>
</svg>
</body></html>
